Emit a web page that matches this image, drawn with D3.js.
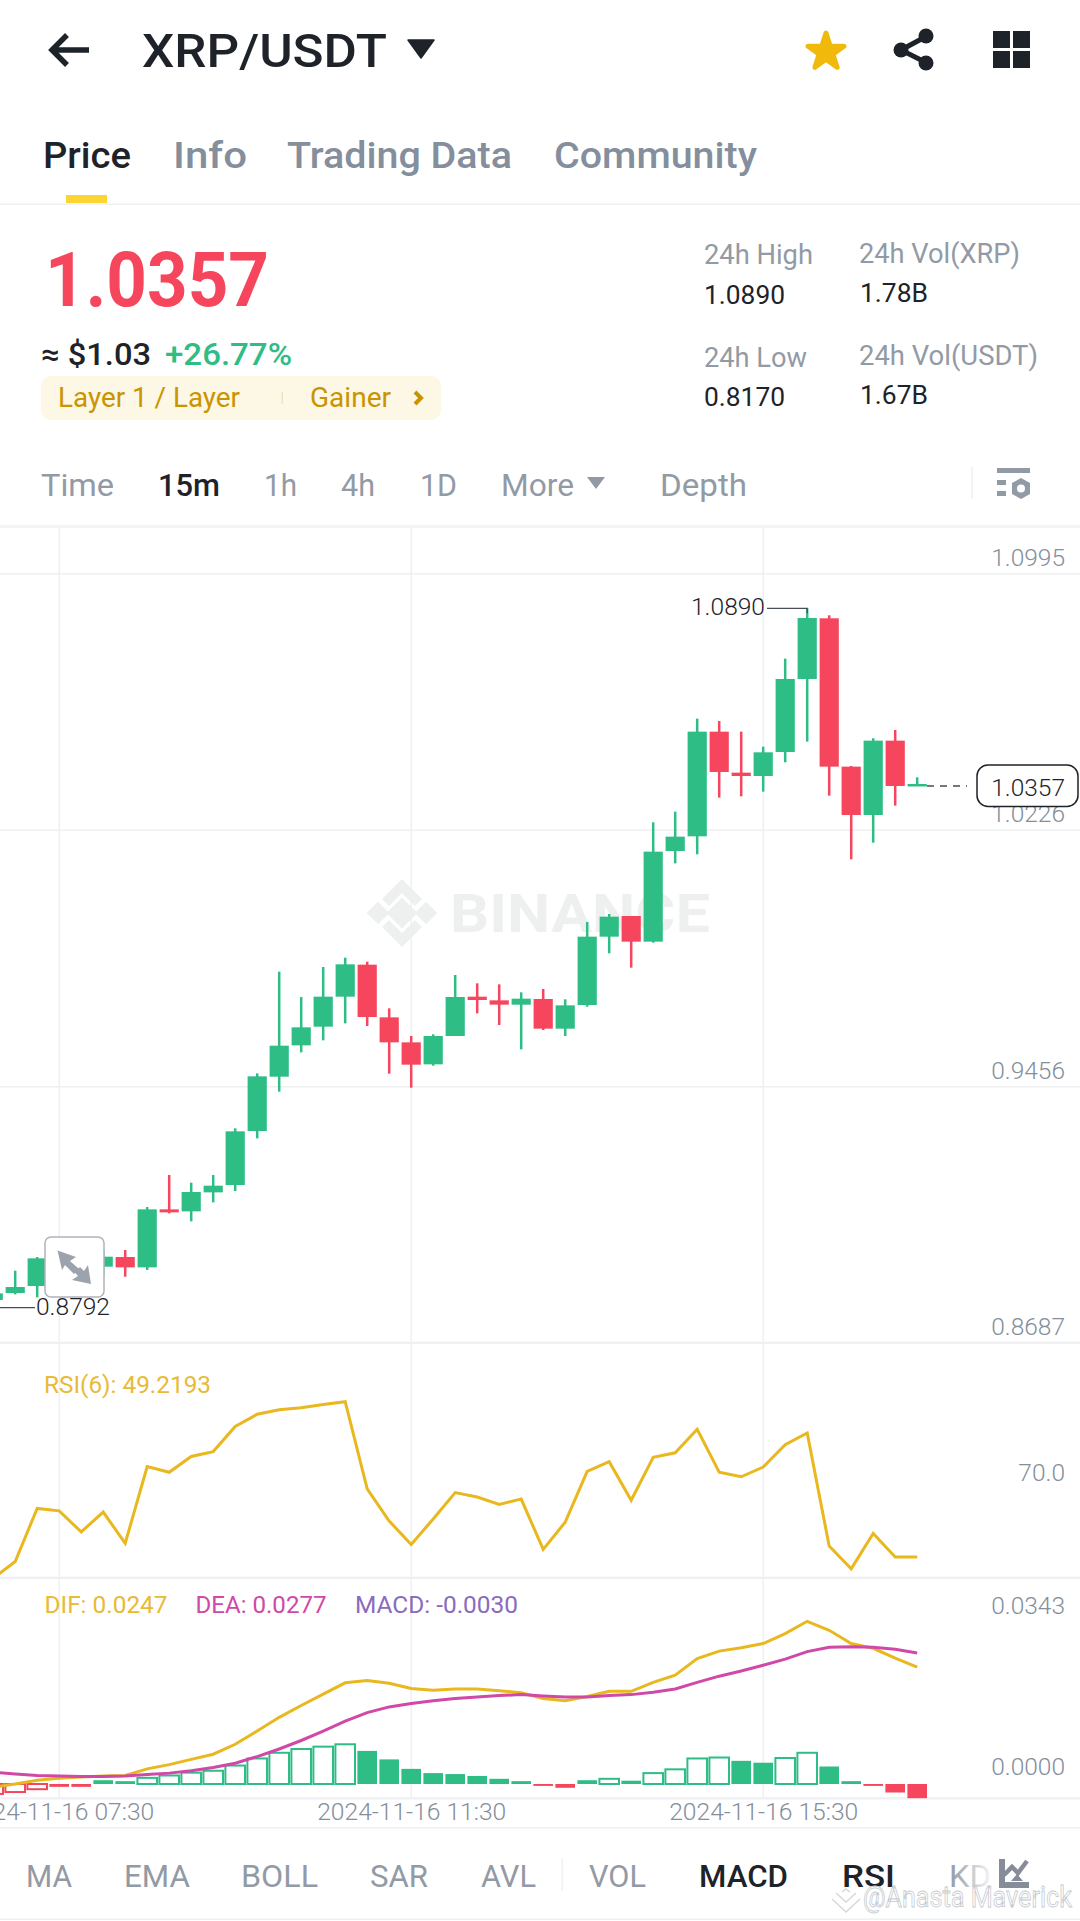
<!DOCTYPE html>
<html>
<head>
<meta charset="utf-8">
<title>XRP/USDT</title>
<style>
  html, body { margin: 0; padding: 0; background: #fff; }
  svg { display: block; font-family: Roboto, sans-serif; }
</style>
</head>
<body>
<svg id="chart" width="1080" height="1921"></svg>
<script src="https://d3js.org/d3.v7.min.js"></script>
<script>
// 15m candles, slot 0 is the 07:30 candle. slots -3 .. 39
var firstSlot = -3;
var opens = [0.8815, 0.8836, 0.8857, 0.8941, 0.8929, 0.8915, 0.8944, 0.8913, 0.9087, 0.9081, 0.9138, 0.9160,
  0.9322, 0.9485, 0.9579, 0.9635, 0.9725, 0.9821, 0.9663, 0.9588, 0.9522, 0.9607, 0.9725, 0.9714, 0.9701,
  0.9718, 0.9629, 0.9700, 0.9905, 0.9967, 0.9890, 1.0162, 1.0206, 1.0520, 1.0397, 1.0387, 1.0459, 1.0678,
  1.0860, 1.0415, 1.0270, 1.0493, 1.0357];
var closes = [0.8835, 0.8854, 0.8940, 0.8923, 0.8899, 0.8945, 0.8913, 0.9087, 0.9078, 0.9139, 0.9158, 0.9321,
  0.9486, 0.9578, 0.9633, 0.9725, 0.9822, 0.9664, 0.9588, 0.9521, 0.9607, 0.9724, 0.9715, 0.9701, 0.9719,
  0.9629, 0.9699, 0.9905, 0.9965, 0.9890, 1.0160, 1.0205, 1.0520, 1.0399, 1.0387, 1.0458, 1.0678, 1.0861,
  1.0415, 1.0270, 1.0493, 1.0357, 1.0363];
var highs = [0.8842, 0.8903, 0.8944, 0.8950, 0.8941, 0.8965, 0.8965, 0.9094, 0.9190, 0.9167, 0.9190, 0.9330,
  0.9495, 0.9800, 0.9724, 0.9814, 0.9842, 0.9830, 0.9690, 0.9607, 0.9612, 0.9790, 0.9765, 0.9762, 0.9738,
  0.9748, 0.9717, 0.9949, 0.9973, 0.9967, 1.0248, 1.0280, 1.0559, 1.0552, 1.0520, 1.0475, 1.0739, 1.0890,
  1.0869, 1.0417, 1.0500, 1.0525, 1.0383];
var lows = [0.8812, 0.8832, 0.8823, 0.8905, 0.8881, 0.8890, 0.8885, 0.8905, 0.9075, 0.9051, 0.9108, 0.9142,
  0.9300, 0.9440, 0.9558, 0.9594, 0.9645, 0.9637, 0.9494, 0.9452, 0.9518, 0.9607, 0.9675, 0.9640, 0.9567,
  0.9625, 0.9607, 0.9695, 0.9855, 0.9812, 0.9887, 1.0125, 1.0152, 1.0322, 1.0326, 1.0340, 1.0428, 1.0490,
  1.0328, 1.0137, 1.0187, 1.0298, 1.0357];

var rsiValues = [44.0, 48.1, 61.2, 60.6, 55.4, 60.3, 52.6, 71.5, 70.1, 74.0, 75.2, 81.4, 84.4, 85.5, 86.0, 86.8,
  87.5, 66.0, 58.1, 52.3, 58.6, 65.1, 64.0, 62.2, 63.5, 51.1, 57.8, 70.3, 72.7, 63.2, 73.8, 74.9, 80.7, 70.1,
  69.0, 71.4, 76.9, 79.8, 51.9, 46.3, 55.0, 49.2, 49.2193];

var difValues = [-0.0007, 0, 0.0008, 0.0012, 0.0015, 0.0017, 0.0018, 0.0032, 0.0041, 0.0052, 0.0063, 0.0084,
  0.0112, 0.0141, 0.0166, 0.0190, 0.0214, 0.0219, 0.0213, 0.0202, 0.0198, 0.0201, 0.0201, 0.0197, 0.0193,
  0.0181, 0.0176, 0.0185, 0.0196, 0.0196, 0.0215, 0.0230, 0.0265, 0.0281, 0.0288, 0.0297, 0.0318, 0.0344,
  0.0325, 0.0297, 0.0287, 0.0266, 0.0247];
var deaValues = [0.0025, 0.0021, 0.0018, 0.0017, 0.0016, 0.0016, 0.0017, 0.0020, 0.0023, 0.0028, 0.0035, 0.0044,
  0.0058, 0.0074, 0.0092, 0.0112, 0.0133, 0.0151, 0.0163, 0.0170, 0.0176, 0.0181, 0.0184, 0.0187, 0.0189,
  0.0186, 0.0184, 0.0184, 0.0187, 0.0189, 0.0194, 0.0201, 0.0215, 0.0228, 0.0239, 0.0251, 0.0264, 0.0280,
  0.0289, 0.0290, 0.0289, 0.0285, 0.0277];
var macdValues = [-0.0021, -0.0017, -0.0011, -0.0006, -0.0006, 0.0008, 0.0006, 0.0013, 0.0018, 0.0024, 0.0028,
  0.0039, 0.0054, 0.0066, 0.0074, 0.0079, 0.0084, 0.0070, 0.0052, 0.0032, 0.0023, 0.0021, 0.0017, 0.0011, 0.0006,
  -0.0004, -0.0008, 0.0008, 0.0011, 0.0007, 0.0023, 0.0031, 0.0054, 0.0056, 0.0049, 0.0045, 0.0055, 0.0066,
  0.0037, 0.0006, -0.0004, -0.0018, -0.0030];
// 1 = bar is drawn as outline (momentum growing), 0 = solid
var macdOutlined = [1, 1, 1, 0, 0, 0, 0, 1, 1, 1, 1, 1, 1, 1, 1, 1, 1, 0, 0, 0, 0, 0, 0, 0, 0,
  0, 0, 0, 1, 0, 1, 1, 1, 1, 0, 0, 1, 1, 0, 0, 0, 0, 0];

var priceTicks = [1.0995, 1.0226, 0.9456, 0.8687];
var dateSlots = [0, 16, 32];
var dateLabels = ["2024-11-16 07:30", "2024-11-16 11:30", "2024-11-16 15:30"];
var lastPrice = 1.0357, highMark = 1.0890, lowMark = 0.8792;

var intervals = ["Time", "15m", "1h", "4h", "1D", "More", "Depth"];
var intervalX = [41, 158, 264, 341, 420, 501, 660];
var intervalW = [73, 62, 33, 34, 37, 73, 87];
var indicators = ["MA", "EMA", "BOLL", "SAR", "AVL", "VOL", "MACD", "RSI"];
var indicatorX = [26, 124, 241, 370, 481, 589, 699, 842];
var indicatorW = [46, 66, 77, 58, 55, 57, 89, 53];

var INK = "#1E2329", GREY = "#929AA5", LINE = "#EEF0F2", UP = "#2EBD85", DOWN = "#F6465D",
    GOLD = "#F0B90B", AMBER = "#C99400";

var svg = d3.select("#chart");

// text helper, w forces the measured width of the string
function label(str, x, y, size, fill, weight, w, anchor) {
  var t = svg.append("text").attr("x", x).attr("y", y).attr("font-size", size)
    .attr("fill", fill).attr("font-weight", weight || 400)
    .attr("text-anchor", anchor || "start").text(str);
  if (w) t.attr("textLength", w).attr("lengthAdjust", "spacingAndGlyphs");
  return t;
}

var x = d3.scaleLinear().domain([0, 16]).range([59.2, 411.2]);
var yPrice = d3.scaleLinear().domain([1.0995, 0.8687]).range([573.3, 1342.7]);
var yRsi = d3.scaleLinear().domain([70, 49.2193]).range([1472.7, 1557]);
var yMacd = d3.scaleLinear().domain([0, 0.0277]).range([1784, 1653]);

var slots = d3.range(opens.length).map(function(i) { return firstSlot + i; });

/* ---- header ---- */
svg.append("path").attr("d", "M89 50H53M67 35L52 50L67 65").attr("fill", "none")
  .attr("stroke", INK).attr("stroke-width", 5.5);
label("XRP/USDT", 142, 67, 46, INK, 500, 245);
svg.append("path").attr("d", "M408 40H434L421 58Z").attr("fill", INK).attr("stroke", INK)
  .attr("stroke-width", 1.5).attr("stroke-linejoin", "round");
svg.append("path").attr("d", d3.symbol().type(d3.symbolStar).size(400))
  .attr("transform", "translate(826,52)").attr("fill", GOLD)
  .attr("stroke", GOLD).attr("stroke-width", 5).attr("stroke-linejoin", "round");
svg.append("path").attr("d", "M927 36L901 50L927 63").attr("fill", "none")
  .attr("stroke", INK).attr("stroke-width", 5);
[[926, 36], [901, 50], [926, 63]].forEach(function(c) {
  svg.append("circle").attr("cx", c[0]).attr("cy", c[1]).attr("r", 7.5).attr("fill", INK);
});
[[993, 31], [1013, 31], [993, 51], [1013, 51]].forEach(function(c) {
  svg.append("rect").attr("x", c[0]).attr("y", c[1]).attr("width", 17).attr("height", 17).attr("fill", INK);
});

label("Price", 43, 168, 37, INK, 500, 88);
label("Info", 173, 168, 37, "#848E9C", 500, 74);
label("Trading Data", 287, 168, 37, "#848E9C", 500, 225);
label("Community", 554, 168, 37, "#848E9C", 500, 203);
svg.append("rect").attr("x", 66).attr("y", 195).attr("width", 41).attr("height", 8).attr("fill", "#FCD535");
svg.append("rect").attr("x", 0).attr("y", 203.5).attr("width", 1080).attr("height", 1.5).attr("fill", LINE);

/* ---- ticker ---- */
label("1.0357", 45, 306, 76, DOWN, 700, 224);
label("\u2248 $1.03", 41, 365, 31, INK, 500, 110);
label("+26.77%", 165, 365, 31, UP, 500, 127);
svg.append("rect").attr("x", 41).attr("y", 376).attr("width", 400).attr("height", 44).attr("rx", 10).attr("fill", "#FDF7E5");
label("Layer 1 / Layer", 58, 407, 27, AMBER, 400, 182);
svg.append("rect").attr("x", 281.5).attr("y", 392).attr("width", 1.5).attr("height", 12).attr("fill", "#EFE3BF");
label("Gainer", 310, 407, 27, AMBER, 400, 81);
svg.append("path").attr("d", "M415 392L421 398L415 404").attr("fill", "none").attr("stroke", AMBER).attr("stroke-width", 4);

label("24h High", 704, 264, 27, GREY, 400, 109);
label("1.0890", 704, 304, 26, INK, 400, 81);
label("24h Vol(XRP)", 859, 263, 27, GREY, 400, 161);
label("1.78B", 860, 302, 26, INK, 400, 68);
label("24h Low", 704, 367, 27, GREY, 400, 103);
label("0.8170", 704, 406, 26, INK, 400, 81);
label("24h Vol(USDT)", 859, 365, 27, GREY, 400, 179);
label("1.67B", 860, 404, 26, INK, 400, 68);

/* ---- interval row ---- */
intervals.forEach(function(s, i) {
  var on = s === "15m";
  label(s, intervalX[i], 496, 32, on ? INK : GREY, on ? 500 : 400, intervalW[i]);
});
svg.append("path").attr("d", "M587 477H605L596 489Z").attr("fill", GREY);
svg.append("rect").attr("x", 971.5).attr("y", 467).attr("width", 1.5).attr("height", 32).attr("fill", LINE);
svg.append("rect").attr("x", 997).attr("y", 468).attr("width", 33).attr("height", 5).attr("fill", GREY);
svg.append("rect").attr("x", 997).attr("y", 480).attr("width", 9).attr("height", 5).attr("fill", GREY);
svg.append("rect").attr("x", 997).attr("y", 491).attr("width", 9).attr("height", 5).attr("fill", GREY);
svg.append("path").attr("d", "M1021 478L1030 483V494L1021 499L1012 494V483Z").attr("fill", GREY);
svg.append("circle").attr("cx", 1021).attr("cy", 488.5).attr("r", 4).attr("fill", "#fff");
svg.append("rect").attr("x", 0).attr("y", 525).attr("width", 1080).attr("height", 3).attr("fill", "#F3F4F6");

/* ---- grid + axes ---- */
var vgrid = svg.append("g").attr("stroke", LINE).attr("stroke-width", 1.5);
vgrid.selectAll("line").data(dateSlots).enter().append("line")
  .attr("x1", function(d) { return x(d); }).attr("x2", function(d) { return x(d); })
  .attr("y1", 528).attr("y2", 1798);

var priceAxis = d3.axisRight(yPrice).tickValues(priceTicks).tickSize(-1080)
  .tickFormat(d3.format(".4f"));
var pa = svg.append("g").attr("transform", "translate(1080,0)").call(priceAxis);
pa.select(".domain").remove();
pa.selectAll("line").attr("stroke", LINE).attr("stroke-width", 1.5);
pa.selectAll("text").attr("x", -15).attr("dy", -8).attr("text-anchor", "end")
  .attr("font-size", 24.5).attr("font-weight", 300).attr("fill", "#848E9C").attr("font-family", "Roboto");

[1342.7, 1577.7, 1798.3].forEach(function(yy) {
  svg.append("rect").attr("x", 0).attr("y", yy - 1).attr("width", 1080).attr("height", 2.2).attr("fill", "#EEF0F3");
});

/* ---- watermark ---- */
var mark = svg.append("g").attr("transform", "translate(402,913)").attr("fill", "#EEF0F0");
[[0, 0, 11], [-24, 0, 8], [24, 0, 8]].forEach(function(d) {
  mark.append("rect").attr("x", d[0] - d[2]).attr("y", d[1] - d[2]).attr("width", d[2] * 2).attr("height", d[2] * 2)
    .attr("transform", "rotate(45 " + d[0] + " " + d[1] + ")");
});
mark.append("path").attr("d", "M0 -34L20 -14L13 -7L0 -20L-13 -7L-20 -14Z");
mark.append("path").attr("d", "M0 34L20 14L13 7L0 20L-13 7L-20 14Z");
label("BINANCE", 450, 932, 53, "#EEF0F0", 700, 260);

/* ---- candles ---- */
var candles = svg.append("g");
slots.forEach(function(s, i) {
  var col = closes[i] >= opens[i] ? UP : DOWN;
  var top = yPrice(Math.max(opens[i], closes[i])), bot = yPrice(Math.min(opens[i], closes[i]));
  candles.append("rect").attr("x", x(s) - 1.25).attr("width", 2.5)
    .attr("y", yPrice(highs[i])).attr("height", yPrice(lows[i]) - yPrice(highs[i])).attr("fill", col);
  candles.append("rect").attr("x", x(s) - 9.6).attr("width", 19.2)
    .attr("y", top).attr("height", Math.max(bot - top, 2.5)).attr("fill", col);
});

// high / low markers
var hiSlot = slots[highs.indexOf(highMark)];
svg.append("path").attr("d", "M767 " + yPrice(highMark) + "H" + x(hiSlot) + "v5").attr("fill", "none")
  .attr("stroke", "#474D57").attr("stroke-width", 1.3);
label("1.0890", 691, 615, 24.5, INK, 300, 74);
svg.append("line").attr("x1", 0).attr("x2", 35).attr("y1", yPrice(lowMark)).attr("y2", yPrice(lowMark))
  .attr("stroke", "#474D57").attr("stroke-width", 1.3);
label("0.8792", 36, 1315, 24.5, INK, 300, 74);

// expand button
svg.append("rect").attr("x", 45).attr("y", 1237).attr("width", 59).attr("height", 60).attr("rx", 6)
  .attr("fill", "#fff").attr("stroke", "#AEB4BC").attr("stroke-width", 1.5);
svg.append("path").attr("d", "M57.5 1250.5L76 1257L70 1261L79 1269L74 1274L65 1265L62 1270Z").attr("fill", "#9CA3AC");
svg.append("path").attr("d", "M91 1284L72 1280L78 1276L74.5 1272L80 1267L84 1271L88 1265Z").attr("fill", "#9CA3AC");

// last price
svg.append("line").attr("x1", 927).attr("x2", 967).attr("y1", yPrice(lastPrice)).attr("y2", yPrice(lastPrice))
  .attr("stroke", "#474D57").attr("stroke-width", 1.5).attr("stroke-dasharray", "7 6");
svg.append("rect").attr("x", 977).attr("y", 765).attr("width", 101).attr("height", 41.5).attr("rx", 11)
  .attr("fill", "#fff").attr("stroke", INK).attr("stroke-width", 1.5);
label(d3.format(".4f")(lastPrice), 1065, 796, 24.5, INK, 300, null, "end");

/* ---- RSI ---- */
label("RSI(6): 49.2193", 44, 1393, 23.5, "#E8BA35", 400, 167);
label("70.0", 1065, 1481, 24.5, "#848E9C", 300, null, "end");
svg.append("path").attr("d", d3.line().x(function(d) { return x(d); })
    .y(function(d, i) { return yRsi(rsiValues[i]); })(slots))
  .attr("fill", "none").attr("stroke", "#E9B71E").attr("stroke-width", 3);

/* ---- MACD ---- */
label("DIF: 0.0247", 44.5, 1613, 23.5, "#E8BA35", 400, 123);
label("DEA: 0.0277", 195.5, 1613, 23.5, "#D048A8", 400, 131);
label("MACD: -0.0030", 355, 1613, 23.5, "#8A6BBE", 400, 163);
label("0.0343", 1065, 1614, 24.5, "#848E9C", 300, null, "end");
label("0.0000", 1065, 1775, 24.5, "#848E9C", 300, null, "end");

var bars = svg.append("g");
slots.forEach(function(s, i) {
  var v = macdValues[i], col = v >= 0 ? UP : DOWN;
  var top = yMacd(Math.max(v, 0)), bot = yMacd(Math.min(v, 0));
  var r = bars.append("rect").attr("x", x(s) - 9.8).attr("width", 19.6).attr("y", top).attr("height", bot - top);
  if (macdOutlined[i]) r.attr("fill", "#fff").attr("stroke", col).attr("stroke-width", 2);
  else r.attr("fill", col);
});
var macdLine = d3.line().x(function(d) { return x(d); });
svg.append("path").attr("d", macdLine.y(function(d, i) { return yMacd(difValues[i]); })(slots))
  .attr("fill", "none").attr("stroke", "#E9B71E").attr("stroke-width", 3);
svg.append("path").attr("d", macdLine.y(function(d, i) { return yMacd(deaValues[i]); })(slots))
  .attr("fill", "none").attr("stroke", "#D048A8").attr("stroke-width", 3);

/* ---- date axis ---- */
var dateAxis = d3.axisBottom(x).tickValues(dateSlots).tickSize(0)
  .tickFormat(function(d, i) { return dateLabels[i]; });
var da = svg.append("g").attr("transform", "translate(0,1798)").call(dateAxis);
da.select(".domain").remove();
da.selectAll("text").attr("y", 22).attr("dy", 0).attr("font-size", 24.5).attr("font-weight", 300)
  .attr("fill", "#848E9C").attr("font-family", "Roboto")
  .attr("textLength", 189).attr("lengthAdjust", "spacingAndGlyphs");
svg.append("rect").attr("x", 0).attr("y", 1827).attr("width", 1080).attr("height", 1.5).attr("fill", LINE);

/* ---- indicator row ---- */
indicators.forEach(function(s, i) {
  var on = s === "MACD" || s === "RSI";
  label(s, indicatorX[i], 1887, 32, on ? INK : GREY, on ? 500 : 400, indicatorW[i]);
});
svg.append("rect").attr("x", 561.5).attr("y", 1858).attr("width", 1.5).attr("height", 33).attr("fill", LINE);
var fade = svg.append("defs").append("linearGradient").attr("id", "kdFade")
  .attr("gradientUnits", "userSpaceOnUse").attr("x1", 950).attr("x2", 990).attr("y1", 0).attr("y2", 0);
fade.append("stop").attr("offset", 0).attr("stop-color", GREY);
fade.append("stop").attr("offset", 1).attr("stop-color", "#F2F3F5");
label("KD", 949, 1887, 32, "url(#kdFade)", 400, 42);
svg.append("path").attr("d", "M999 1859H1005V1882H1029V1888H999Z").attr("fill", "#868D98");
svg.append("path").attr("d", "M1004 1875L1012 1867L1018 1873L1027 1861").attr("fill", "none")
  .attr("stroke", "#868D98").attr("stroke-width", 4.5);
svg.append("path").attr("d", "M1017 1874L1023 1881H1011Z").attr("fill", "#868D98");

// uploader watermark
svg.append("path").attr("d", "M832 1899L846 1912L860 1899M836 1893L846 1902L856 1893M842 1892L846 1889L850 1892")
  .attr("fill", "none").attr("stroke", "#D5D8DC").attr("stroke-width", 1.5);
label("@Anasta Maverick", 863, 1907, 29, "#fff", 400, 209).attr("stroke", "#C4C8CD").attr("stroke-width", 0.8);
svg.append("rect").attr("x", 0).attr("y", 1918.5).attr("width", 1080).attr("height", 1.5).attr("fill", LINE);
</script>
</body>
</html>
